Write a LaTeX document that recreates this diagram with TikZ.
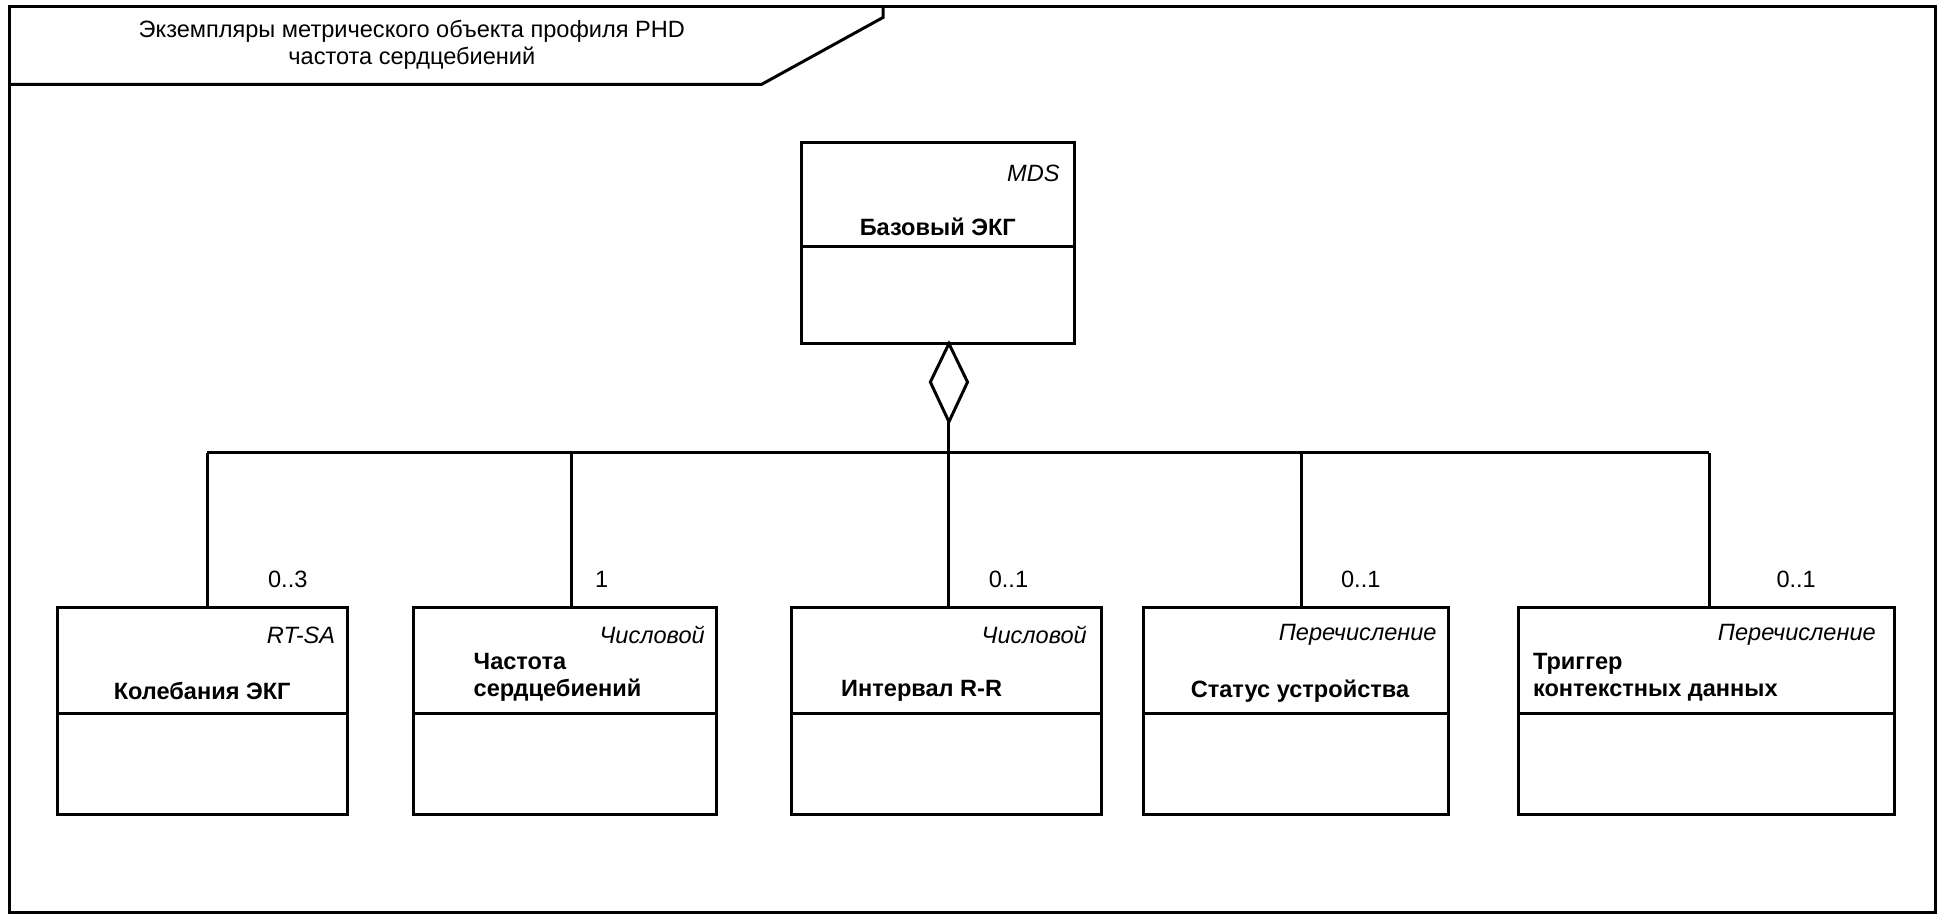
\documentclass[tikz,border=0pt]{standalone}
\usepackage{fontspec}
\setmainfont{Liberation Sans}
\begin{document}
\begin{tikzpicture}[x=0.5pt,y=-0.5pt,line width=1.2pt,
  cls/.style={draw,fill=white},
  ster/.style={font=\itshape\fontsize{9.5}{11}\selectfont,anchor=east},
  nm/.style={font=\bfseries\fontsize{9.5}{11}\selectfont},
  mult/.style={font=\fontsize{9.5}{11}\selectfont}]
\useasboundingbox (0,0) rectangle (1568,739);
\draw (8,5) rectangle (1560,736);
\draw (8,68) -- (614,68) -- (712,14) -- (712,5);
\node[font=\fontsize{9.5}{11}\selectfont,align=center] (title) at (332,36) {Экземпляры метрического объекта профиля PHD\\частота  сердцебиений};
% top
\draw[cls] (646,115) rectangle (866,277);
\draw (646,199) -- (866,199);
\node[ster] (mds) at (862,140) {MDS};
\node[nm] (base) at (756,183) {Базовый ЭКГ};
\coordinate (dtop) at (765,277);
\draw[fill=white] (765,277) -- (780,308) -- (765,340) -- (750,308) -- cycle;
\coordinate (dbot) at (765,340);
\draw (dbot) -- (765,365);
\draw (167,365) -- (1378,365);
\foreach \x in {167,461,765,1049,1378} \draw (\x,365) -- (\x,490);
% boxes
\foreach \a/\b in {46/280,333/578,638/888,922/1168,1224/1527}{
  \draw[cls] (\a,490) rectangle (\b,657);
  \draw (\a,575) -- (\b,575);}
\node[mult] (m1) at (232,467) {0..3};
\node[mult] (m2) at (485,467) {1};
\node[mult] (m3) at (813,467) {0..1};
\node[mult] (m4) at (1097,467) {0..1};
\node[mult] (m5) at (1448,467) {0..1};
\node[ster] (s1) at (278,512) {RT-SA};
\node[ster] (s2) at (576,512) {Числовой};
\node[ster] (s3) at (884,512) {Числовой};
\node[ster] (s4) at (1166,512) {Перечисление};
\node[ster] (s5) at (1520,512) {Перечисление};
\node[nm] (n1) at (163,557) {Колебания ЭКГ};
\node[nm,align=left,anchor=west] (n2) at (374,546) {Частота\\сердцебиений};
\node[nm] (n3) at (743,557) {Интервал R-R};
\node[nm] (n4) at (1048,557) {Статус устройства};
\node[nm,align=left,anchor=west] (n5) at (1228,546) {Триггер\\контекстных данных};
\end{tikzpicture}
\end{document}
